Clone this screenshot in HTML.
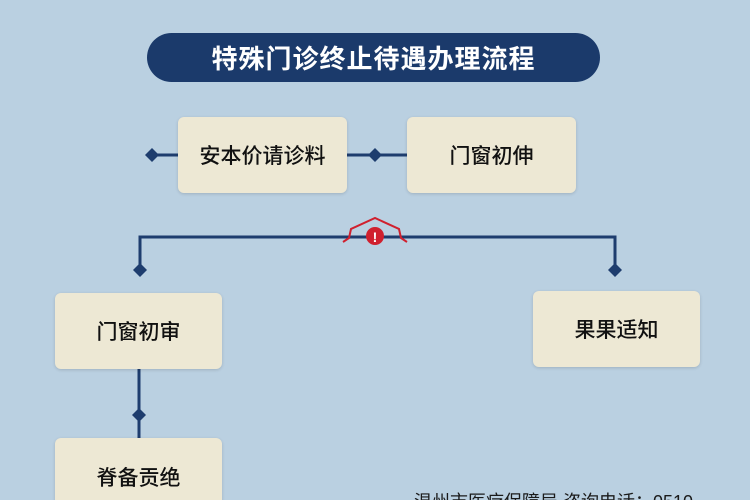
<!DOCTYPE html>
<html style="width:750px;height:500px;overflow:hidden"><head><meta charset="utf-8"><style>
body{margin:0;width:750px;height:500px;overflow:hidden;background:#bad0e1;font-family:"Liberation Sans","Noto Sans CJK SC",sans-serif;position:relative}
.box{position:absolute;background:#ede8d4;border-radius:6px;box-shadow:0 1px 3px rgba(0,0,0,.15);display:flex;align-items:center;justify-content:center;font-size:21px;color:#111;font-weight:500}
.title{position:absolute;left:147px;top:33px;width:453px;height:49px;background:#1b3a6b;border-radius:25px;color:#fff;font-weight:bold;font-size:26px;display:flex;align-items:center;justify-content:center;letter-spacing:1px}
svg{position:absolute;left:0;top:0}
</style></head><body>
<div class="title">特殊门诊终止待遇办理流程</div>
<svg width="750" height="500">
<g stroke="#1e3d6e" stroke-width="3" fill="none">
<line x1="152" y1="155" x2="178" y2="155"/>
<line x1="347" y1="155" x2="407" y2="155"/>
<polyline points="140,270 140,237 615,237 615,270"/>
<line x1="139" y1="369" x2="139" y2="438"/>
</g>
<g fill="#1e3d6e">
<path d="M152 148 L159 155 L152 162 L145 155Z"/>
<path d="M375 148 L382 155 L375 162 L368 155Z"/>
<path d="M140 263 L147 270 L140 277 L133 270Z"/>
<path d="M615 263 L622 270 L615 277 L608 270Z"/>
<path d="M139 408 L146 415 L139 422 L132 415Z"/>
</g>
<path d="M343 242 L349 238 L351 229 L375 218 L399 229 L401 238 L407 242" stroke="#d0202e" stroke-width="2" fill="none"/>
<circle cx="375" cy="236" r="9" fill="#d0202e"/>
<text x="375" y="242" fill="#fff" font-size="14" font-weight="bold" text-anchor="middle" font-family="Liberation Sans">!</text>
</svg>
<div class="box" style="left:178px;top:117px;width:169px;height:76px">安本价请诊料</div>
<div class="box" style="left:407px;top:117px;width:169px;height:76px">门窗初伸</div>
<div class="box" style="left:55px;top:293px;width:167px;height:76px">门窗初审</div>
<div class="box" style="left:533px;top:291px;width:167px;height:76px">果果适知</div>
<div class="box" style="left:55px;top:438px;width:167px;height:76px;align-items:flex-start"><span style="margin-top:24px">脊备贡绝</span></div>
<div style="position:absolute;left:414px;top:488px;font-size:18px;color:#1a1a1a;white-space:nowrap">温州市医疗保障局 咨询电话：0510</div>
</body></html>
